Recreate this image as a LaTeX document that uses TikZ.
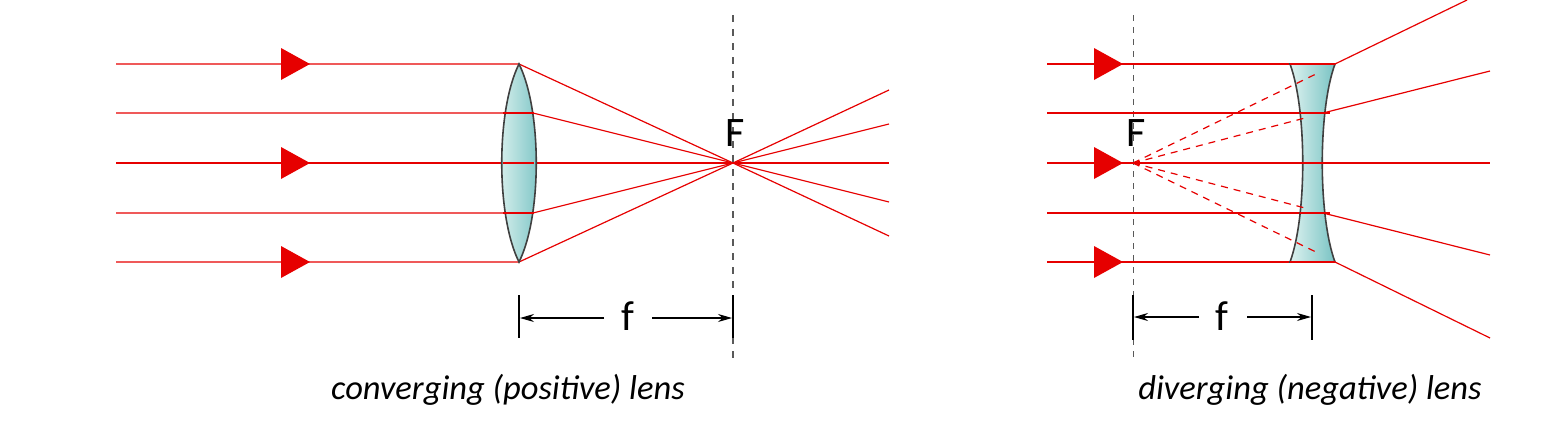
\documentclass[tikz,border=0pt]{standalone}
\usepackage{fontspec}
\setmainfont{Carlito}
\usetikzlibrary{arrows.meta}
\definecolor{ray}{RGB}{230,0,0}
\definecolor{lensA}{RGB}{222,242,240}
\definecolor{lensB}{RGB}{120,195,195}
\tikzset{x=1pt,y=-1pt,
 ray/.style={draw=ray,line width=1.2pt},
 dray/.style={draw=ray,line width=1.2pt,dash pattern=on 7pt off 6pt},
 axis/.style={draw=black!65,line width=1.2pt,dash pattern=on 7pt off 7pt},
 tri/.style={fill=ray,draw=none},
 lens/.style={draw=black!75,line width=1.6pt,left color=lensA,right color=lensB},
 dim/.style={line width=1.1pt,-{Stealth[length=14pt,width=8pt]}},
 tick/.style={line width=1.3pt},
 lbl/.style={font=\fontsize{34.5}{36}\selectfont\itshape},
 big/.style={font=\fontsize{42}{44}\selectfont}}
\begin{document}
\begin{tikzpicture}
\useasboundingbox (0,0) rectangle (1556,426);
% ---- converging ----
\draw[axis] (733,15) -- (733,362);
\coordinate (F1) at (733,163);
\foreach \y/\xl in {64/519,113/533,163/533,213/533,262/519}{
  \draw[ray] (116,\y) -- (\xl,\y) -- (F1);
}
\filldraw[lens] (519,64) .. controls (496,110) and (496,216) .. (519,262) .. controls (542,216) and (542,110) .. (519,64) -- cycle;
\foreach \y in {113,163,213}{\draw[ray] (503,\y) -- (534,\y);}
\draw[ray] (F1) -- (889,90);
\draw[ray] (F1) -- (889,124);
\draw[ray] (F1) -- (889,163);
\draw[ray] (F1) -- (889,202);
\draw[ray] (F1) -- (889,236);
\foreach \y in {64,163,262}{\fill[tri] (281,\y-16) -- (310,\y) -- (281,\y+16) -- cycle;}
\node[big,anchor=south] (Fa) at (735,150) {F};
\draw[tick] (519,295) -- (519,338);
\draw[tick] (733,295) -- (733,338);
\node[big] (fa) at (628,316) {f};
\draw[dim] (604,318) -- (520,318);
\draw[dim] (652,318) -- (732,318);
\node[lbl] (la) at (508,390) {converging (positive) lens};
% ---- diverging ----
\draw[axis,dash pattern=on 6pt off 6pt,line width=0.9pt] (1133,15) -- (1133,362);
\coordinate (F2) at (1133,163);
\foreach \y in {64,113,163,213,262}{\draw[ray] (1047,\y) -- (1330,\y);}
\filldraw[lens] (1290,64) -- (1335,64) .. controls (1318,110) and (1318,216) .. (1335,262) -- (1290,262) .. controls (1307,216) and (1307,110) .. (1290,64) -- cycle;
\draw[ray] (1290,64) -- (1335,64);
\draw[ray] (1290,262) -- (1335,262);
\foreach \y in {113,163,213}{\draw[ray] (1300,\y) -- (1330,\y);}
\draw[ray] (1335,64) -- (1467,0);
\draw[ray] (1323,113) -- (1490,71);
\draw[ray] (1323,163) -- (1490,163);
\draw[ray] (1323,213) -- (1490,255);
\draw[ray] (1335,262) -- (1490,338);
\draw[dray] (F2) -- (1318,73);
\draw[dray] (F2) -- (1305,118);
\draw[dray] (F2) -- (1305,208);
\draw[dray] (F2) -- (1318,253);
\foreach \y in {64,163,262}{\fill[tri] (1094,\y-16) -- (1123,\y) -- (1094,\y+16) -- cycle;}
\node[big,anchor=south] (Fb) at (1136,150) {F};
\draw[tick] (1133,295) -- (1133,340);
\draw[tick] (1312,295) -- (1312,340);
\node[big] (fb) at (1222,316) {f};
\draw[dim] (1199,317) -- (1134,317);
\draw[dim] (1247,317) -- (1311,317);
\node[lbl] (lb) at (1310,390) {diverging (negative) lens};
\end{tikzpicture}
\end{document}
